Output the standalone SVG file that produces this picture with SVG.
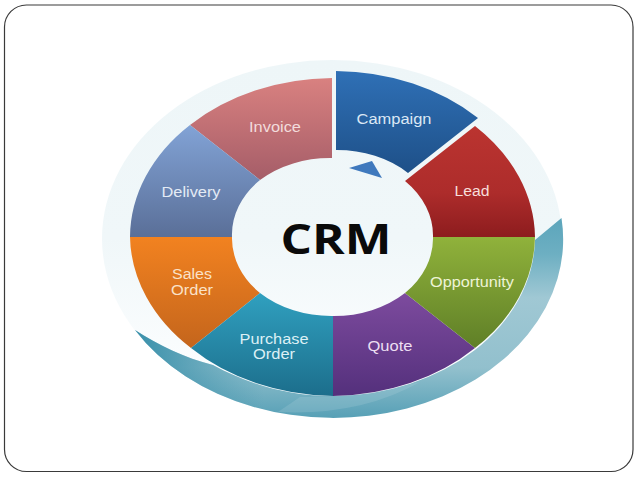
<svg xmlns="http://www.w3.org/2000/svg" width="638" height="479" viewBox="0 0 638 479">
<style>
.l{font-family:"Liberation Sans",Arial,sans-serif;font-size:14px;text-anchor:middle}
</style>
<defs>
<linearGradient id="gCampaign" x1="0" y1="0" x2="0" y2="1"><stop offset="0" stop-color="#2f70b6"/><stop offset="1" stop-color="#1e5088"/></linearGradient>
<linearGradient id="gLead" x1="0" y1="0" x2="0" y2="1"><stop offset="0" stop-color="#bb3430"/><stop offset=".6" stop-color="#ad2c2b"/><stop offset="1" stop-color="#8d1c1e"/></linearGradient>
<linearGradient id="gOpp" x1="0" y1="0" x2="0" y2="1"><stop offset="0" stop-color="#90b23b"/><stop offset="1" stop-color="#5f7f27"/></linearGradient>
<linearGradient id="gQuote" x1="0" y1="0" x2="0" y2="1"><stop offset="0" stop-color="#7d4b9e"/><stop offset="1" stop-color="#54307c"/></linearGradient>
<linearGradient id="gPurchase" x1="0" y1="0" x2="0" y2="1"><stop offset="0" stop-color="#30a0bf"/><stop offset="1" stop-color="#1c6e8c"/></linearGradient>
<linearGradient id="gSales" x1="0" y1="0" x2="0" y2="1"><stop offset="0" stop-color="#f28220"/><stop offset="1" stop-color="#c4651c"/></linearGradient>
<linearGradient id="gDelivery" x1="0" y1="0" x2="0" y2="1"><stop offset="0" stop-color="#82a3d6"/><stop offset="1" stop-color="#5a6f98"/></linearGradient>
<linearGradient id="gInvoice" x1="0" y1="0" x2="0" y2="1"><stop offset="0" stop-color="#d98180"/><stop offset="1" stop-color="#a55d68"/></linearGradient>
<linearGradient id="gTeal" x1="0" y1="0" x2="0" y2="1"><stop offset="0" stop-color="#5ba5bb"/><stop offset=".18" stop-color="#6dafc2"/><stop offset=".4" stop-color="#a0c8d4"/><stop offset=".75" stop-color="#92c0cd"/><stop offset="1" stop-color="#57a0b6"/></linearGradient>
<linearGradient id="gTip" x1="0" y1="0" x2="1" y2="0"><stop offset="0" stop-color="#2f8aa6" stop-opacity=".9"/><stop offset=".3" stop-color="#2f8aa6" stop-opacity="0"/></linearGradient>
<linearGradient id="gDisc" x1="0" y1="0" x2="0" y2="1"><stop offset="0" stop-color="#eef6f8"/><stop offset=".5" stop-color="#f0f7f9"/><stop offset=".85" stop-color="#fbfdfe"/></linearGradient>
</defs>
<rect id="frame" x="4.5" y="5" width="628.5" height="466.5" rx="22" ry="22" fill="#fff" stroke="#3a3a3a" stroke-width="1.2"/>
<g id="base">
<ellipse cx="332" cy="238.5" rx="230" ry="178.5" fill="url(#gDisc)"/>
<path d="M135 330 A230 178.5 0 0 0 561.5 218 L535 240 A203 159 0 0 1 333 396 C290 396 250 385 213 365 C185 358 158 345 135 330Z" fill="url(#gTeal)"/>
<path d="M135 330 A230 178.5 0 0 0 561.5 218 L535 240 A203 159 0 0 1 333 396 C290 396 250 385 213 365 C185 358 158 345 135 330Z" fill="url(#gTip)"/>
<path d="M278 412 L300 397 Q360 398 420 382 Q360 416 278 412Z" fill="#b4d6df" opacity=".22"/>
</g>
<g id="invoice"><path d="M332 78 A203 159 0 0 0 190 125 L260 180 A101 79 0 0 1 332 158Z" fill="url(#gInvoice)"/><text class="l" x="275" y="132" fill="#f2dcdc" textLength="52" lengthAdjust="spacingAndGlyphs">Invoice</text></g>
<g id="delivery"><path d="M190 125 A203 159 0 0 0 130 237 L232 237 A101 79 0 0 1 260 180Z" fill="url(#gDelivery)"/><text class="l" x="191" y="197" fill="#e4ebf5" textLength="59" lengthAdjust="spacingAndGlyphs">Delivery</text></g>
<g id="sales-order"><path d="M130 237 A203 159 0 0 0 191 348 L260 293 A101 79 0 0 1 232 237Z" fill="url(#gSales)"/><text class="l" x="192" y="279" fill="#fae2c8" textLength="40" lengthAdjust="spacingAndGlyphs">Sales</text><text class="l" x="192" y="295" fill="#fae2c8" textLength="42" lengthAdjust="spacingAndGlyphs">Order</text></g>
<g id="purchase-order"><path d="M191 348 A203 159 0 0 0 333 396 L333 316 A101 79 0 0 1 260 293Z" fill="url(#gPurchase)"/><text class="l" x="274" y="344" fill="#dcf0f5" textLength="69" lengthAdjust="spacingAndGlyphs">Purchase</text><text class="l" x="274" y="359" fill="#dcf0f5" textLength="42" lengthAdjust="spacingAndGlyphs">Order</text></g>
<g id="quote"><path d="M333 396 A203 159 0 0 0 475 348 L405 293 A101 79 0 0 1 333 316Z" fill="url(#gQuote)"/><text class="l" x="390" y="351" fill="#ecdff2" textLength="45" lengthAdjust="spacingAndGlyphs">Quote</text></g>
<g id="opportunity"><path d="M475 348 A203 159 0 0 0 535 237 L433 237 A101 79 0 0 1 405 293Z" fill="url(#gOpp)"/><text class="l" x="472" y="287" fill="#eef4d6" textLength="84" lengthAdjust="spacingAndGlyphs">Opportunity</text></g>
<g id="lead"><path d="M475 126 A203 159 0 0 1 535 237 L433 237 A101 79 0 0 0 405 181Z" fill="url(#gLead)"/><text class="l" x="472" y="196" fill="#f7dedb" textLength="35" lengthAdjust="spacingAndGlyphs">Lead</text></g>
<g id="campaign"><path d="M336 71 A203 159 0 0 1 478 118 L408 173 A101 79 0 0 0 336 150Z" fill="url(#gCampaign)"/><text class="l" x="394" y="124" fill="#dbe8f5" textLength="75" lengthAdjust="spacingAndGlyphs">Campaign</text></g>
<g id="pointer"><polygon points="349,168 372,161 382,178" fill="#3f79bd"/></g>
<g id="crm"><text x="336" y="253.5" font-family="'Open Sans','Noto Sans',sans-serif" font-weight="700" font-size="42" text-anchor="middle" fill="#0a0a0a" textLength="111" lengthAdjust="spacingAndGlyphs">CRM</text></g>
<g id="connectors"/>
</svg>
